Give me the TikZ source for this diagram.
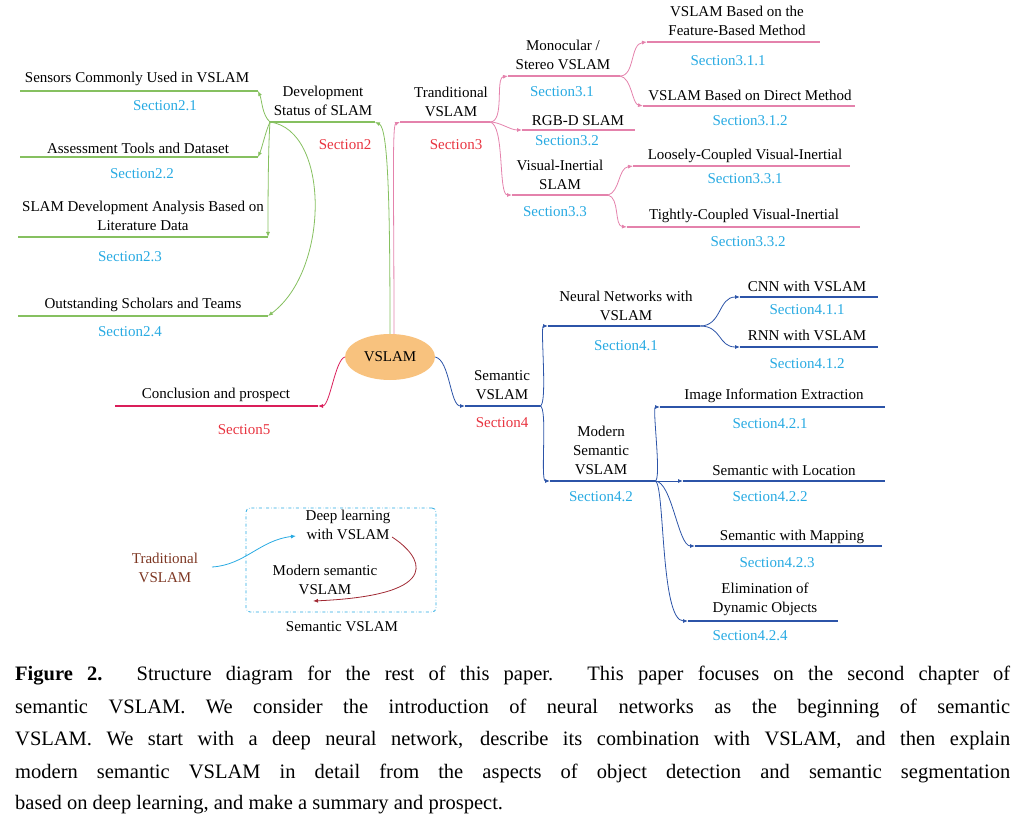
\documentclass[tikz,border=0pt]{standalone}
\usepackage{fontspec}
\setmainfont{Liberation Serif}
\usetikzlibrary{arrows.meta,shapes.geometric}
\definecolor{gr}{RGB}{134,192,96}
\definecolor{pk}{RGB}{228,130,172}
\definecolor{bl}{RGB}{44,84,168}
\definecolor{cy}{RGB}{40,170,226}
\definecolor{rd}{RGB}{232,52,64}
\definecolor{mg}{RGB}{218,30,90}
\definecolor{br}{RGB}{125,55,35}
\definecolor{dr}{RGB}{160,40,50}
\definecolor{org}{RGB}{248,194,126}
\begin{document}
\begin{tikzpicture}[x=1pt,y=-1pt,
  lab/.style={font=\fontsize{15}{19}\selectfont,align=center,inner sep=0pt},
  sec/.style={font=\fontsize{15}{19}\selectfont,text=cy,inner sep=0pt},
  secr/.style={font=\fontsize{15}{19}\selectfont,text=rd,inner sep=0pt},
  bar/.style={line width=2.6pt},
  con/.style={line width=0.8pt,-{Latex[length=5pt,width=4pt]}},
  captxt/.style={font=\fontsize{20.5}{24}\selectfont,anchor=west,inner sep=0pt}]
\useasboundingbox (0,0) rectangle (1023,826);
% ---------- green ----------
\coordinate (sensL) at (20,91); \coordinate (sensR) at (258,91);
\coordinate (devL) at (270,122); \coordinate (devR) at (375,122);
\coordinate (assL) at (20,157); \coordinate (assR) at (258,157);
\coordinate (anaL) at (18,237); \coordinate (anaR) at (268,237);
\coordinate (outL) at (18,316); \coordinate (outR) at (268,316);
\foreach \a in {sens,dev,ass,ana,out} \draw[bar,gr] (\a L) -- (\a R);
\node[lab] (tSens) at (137,79) {Sensors Commonly Used in VSLAM};
\node[sec] (sSens) at (165,106) {Section2.1};
\node[lab] (tDev) at (323,101) {Development\\Status of SLAM};
\node[secr] (sDev) at (345,145) {Section2};
\node[lab] (tAss) at (138,148) {Assessment Tools and Dataset};
\node[sec] (sAss) at (142,174) {Section2.2};
\node[lab] (tAna) at (143,216) {SLAM Development Analysis Based on\\Literature Data};
\node[sec] (sAna) at (130,257) {Section2.3};
\node[lab] (tOut) at (143,305) {Outstanding Scholars and Teams};
\node[sec] (sOut) at (130,332) {Section2.4};
% ellipse
\node[ellipse,fill=org,minimum width=90pt,minimum height=46pt,inner sep=0pt,font=\fontsize{15}{19}\selectfont] (v) at (390,357) {VSLAM};
\draw[con,gr] (v.north) .. controls (390,200) and (388,128) .. (devR);
\draw[con,gr] (devL) .. controls (262,115) and (262,100) .. (sensR);
\draw[con,gr] (devL) .. controls (266,130) and (262,148) .. (assR);
\draw[con,gr] (devL) .. controls (268,150) and (268,210) .. (anaR);
\draw[con,gr] (devL) .. controls (330,130) and (330,270) .. (outR);
% ---------- pink ----------
\coordinate (traL) at (400,122); \coordinate (traR) at (490,122);
\coordinate (monL) at (508,76); \coordinate (monR) at (620,76);
\coordinate (rgbL) at (522,130); \coordinate (rgbR) at (635,130);
\coordinate (visL) at (512,195); \coordinate (visR) at (608,195);
\coordinate (feaL) at (647,42); \coordinate (feaR) at (820,42);
\coordinate (dirL) at (643,106); \coordinate (dirR) at (855,106);
\coordinate (looL) at (633,166); \coordinate (looR) at (850,166);
\coordinate (tigL) at (627,227); \coordinate (tigR) at (860,227);
\foreach \a in {tra,mon,rgb,vis,fea,dir,loo,tig} \draw[bar,pk] (\a L) -- (\a R);
\node[lab] (tTra) at (451,102) {Tranditional\\VSLAM};
\node[secr] (sTra) at (456,145) {Section3};
\node[lab] (tMon) at (563,55) {Monocular /\\Stereo VSLAM};
\node[sec] (sMon) at (562,92) {Section3.1};
\node[lab] (tRgb) at (578,121) {RGB-D SLAM};
\node[sec] (sRgb) at (567,141) {Section3.2};
\node[lab] (tVis) at (560,175) {Visual-Inertial\\SLAM};
\node[sec] (sVis) at (555,212) {Section3.3};
\node[lab] (tFea) at (737,21) {VSLAM Based on the\\Feature-Based Method};
\node[sec] (sFea) at (728,61) {Section3.1.1};
\node[lab] (tDir) at (750,95) {VSLAM Based on Direct Method};
\node[sec] (sDir) at (750,121) {Section3.1.2};
\node[lab] (tLoo) at (745,156) {Loosely-Coupled Visual-Inertial};
\node[sec] (sLoo) at (745,179) {Section3.3.1};
\node[lab] (tTig) at (744,216) {Tightly-Coupled Visual-Inertial};
\node[sec] (sTig) at (748,242) {Section3.3.2};
\draw[con,pk] ([xshift=4pt]v.north) .. controls (394,200) and (392,125) .. (traL);
\draw[con,pk] (traR) .. controls (505,122) and (495,78) .. (monL);
\draw[con,pk] (traR) .. controls (500,122) and (510,130) .. (rgbL);
\draw[con,pk] (traR) .. controls (505,125) and (498,195) .. (visL);
\draw[con,pk] (monR) .. controls (635,76) and (630,44) .. (feaL);
\draw[con,pk] (monR) .. controls (632,78) and (632,104) .. (dirL);
\draw[con,pk] (visR) .. controls (620,192) and (618,168) .. (looL);
\draw[con,pk] (visR) .. controls (620,198) and (614,226) .. (tigL);
% ---------- blue ----------
\coordinate (semL) at (465,406); \coordinate (semR) at (540,406);
\coordinate (neuL) at (548,326); \coordinate (neuR) at (700,326);
\coordinate (cnnL) at (740,297); \coordinate (cnnR) at (878,297);
\coordinate (rnnL) at (740,347); \coordinate (rnnR) at (878,347);
\coordinate (modL) at (550,481); \coordinate (modR) at (655,481);
\coordinate (imgL) at (660,407); \coordinate (imgR) at (885,407);
\coordinate (locL) at (683,481); \coordinate (locR) at (885,481);
\coordinate (mapL) at (695,546); \coordinate (mapR) at (882,546);
\coordinate (eliL) at (688,621); \coordinate (eliR) at (838,621);
\foreach \a in {sem,neu,cnn,rnn,mod,img,loc,map,eli} \draw[bar,bl] (\a L) -- (\a R);
\node[lab] (tSem) at (502,385) {Semantic\\VSLAM};
\node[secr] (sSem) at (502,423) {Section4};
\node[lab] (tNeu) at (626,306) {Neural Networks with\\VSLAM};
\node[sec] (sNeu) at (626,346) {Section4.1};
\node[lab] (tCnn) at (807,286) {CNN with VSLAM};
\node[sec] (sCnn) at (807,310) {Section4.1.1};
\node[lab] (tRnn) at (807,335) {RNN with VSLAM};
\node[sec] (sRnn) at (807,364) {Section4.1.2};
\node[lab] (tMod) at (601,450) {Modern\\Semantic\\VSLAM};
\node[sec] (sMod) at (601,497) {Section4.2};
\node[lab] (tImg) at (774,396) {Image Information Extraction};
\node[sec] (sImg) at (770,424) {Section4.2.1};
\node[lab] (tLoc) at (784,470) {Semantic with Location};
\node[sec] (sLoc) at (770,497) {Section4.2.2};
\node[lab] (tMap) at (792,537) {Semantic with Mapping};
\node[sec] (sMap) at (777,563) {Section4.2.3};
\node[lab] (tEli) at (765,599) {Elimination of\\Dynamic Objects};
\node[sec] (sEli) at (750,636) {Section4.2.4};
\draw[con,bl] (v.east) .. controls (450,360) and (450,406) .. (semL);
\draw[con,bl] (semR) .. controls (548,406) and (540,326) .. (neuL);
\draw[con,bl] (semR) .. controls (548,406) and (540,481) .. (modL);
\draw[con,bl] (neuR) .. controls (722,326) and (718,297) .. (cnnL);
\draw[con,bl] (neuR) .. controls (722,326) and (718,347) .. (rnnL);
\draw[con,bl] (modR) .. controls (662,481) and (652,407) .. (imgL);
\draw[con,bl] (modR) -- (locL);
\draw[con,bl] (modR) .. controls (672,481) and (678,546) .. (mapL);
\draw[con,bl] (modR) .. controls (665,481) and (660,621) .. (eliL);
% ---------- conclusion ----------
\coordinate (conL) at (115,406); \coordinate (conR) at (318,406);
\draw[bar,mg] (conL) -- (conR);
\node[lab] (tCon) at (216,395) {Conclusion and prospect};
\node[secr] (sCon) at (244,430) {Section5};
\draw[con,mg] (v.west) .. controls (335,360) and (330,406) .. (conR);
% ---------- inset ----------
\node[draw=cy,dash dot,rounded corners=4pt,line width=0.8pt,minimum width=190pt,minimum height=104pt,inner sep=0pt] (box) at (341,560) {};
\node[lab] (tDeep) at (348,525) {Deep learning\\with VSLAM};
\node[lab] (tModS) at (325,580) {Modern semantic\\VSLAM};
\node[lab] (tBox) at (342,627) {Semantic VSLAM};
\node[lab,text=br] (tTrad) at (165,568) {Traditional\\VSLAM};
\draw[con,cy] (212,567) .. controls (245,565) and (260,540) .. (296,536);
\draw[con,dr] (392,537) .. controls (420,555) and (450,595) .. (313,601);
% ---------- caption ----------
\node[captxt] (c1) at (15,676) {\makebox[995pt][s]{\textbf{Figure 2.} Structure diagram for the rest of this paper. This paper focuses on the second chapter of}};
\node[captxt] (c2) at (15,708) {\makebox[995pt][s]{semantic VSLAM. We consider the introduction of neural networks as the beginning of semantic}};
\node[captxt] (c3) at (15,741) {\makebox[995pt][s]{VSLAM. We start with a deep neural network, describe its combination with VSLAM, and then explain}};
\node[captxt] (c4) at (15,773) {\makebox[995pt][s]{modern semantic VSLAM in detail from the aspects of object detection and semantic segmentation}};
\node[captxt] (c5) at (15,805) {based on deep learning, and make a summary and prospect.};
\end{tikzpicture}
\end{document}
